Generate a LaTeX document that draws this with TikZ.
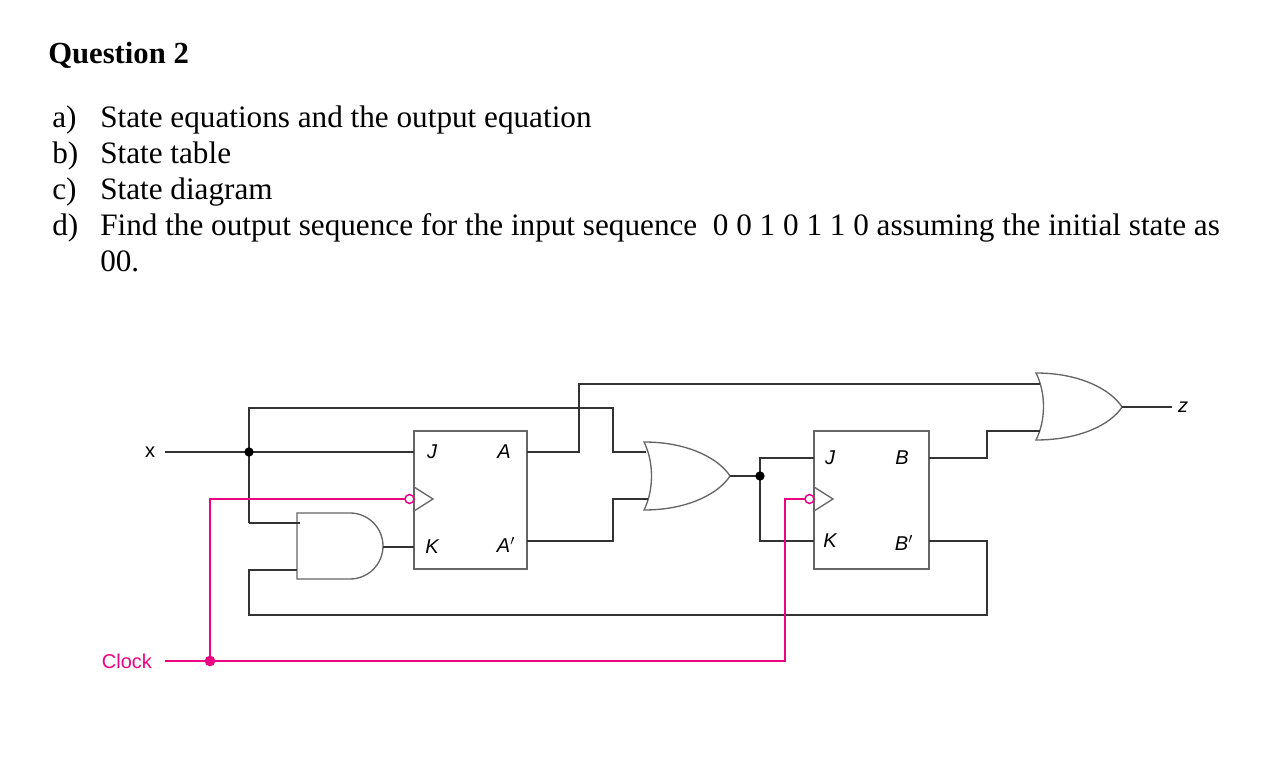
\documentclass[tikz,border=0pt]{standalone}
\usepackage{fontspec}
\setmainfont{Liberation Serif}
\newfontfamily\sfx{Liberation Sans}
\begin{document}
\begin{tikzpicture}[x=0.75pt,y=-0.75pt,
  wire/.style={draw=black!80,line width=1.1pt},
  clk/.style={draw=magenta!90!red,line width=1.1pt},
  gate/.style={draw=black!60,line width=1pt,fill=white},
  lbl/.style={font=\sfx\fontsize{15}{18}\selectfont\itshape,inner sep=0pt},
  txt/.style={font=\fontsize{23.4}{28}\selectfont,anchor=base west,inner sep=0pt},
  jdot/.style={circle,fill=black,inner sep=0pt,minimum size=7pt}]
\useasboundingbox (0,0) rectangle (1272,777);
\node[txt,font=\bfseries\fontsize{23}{28}\selectfont] (q) at (48,64) {Question 2};
\node[txt] (la) at (52,128) {a)}; \node[txt] (ta) at (100,128) {State equations and the output equation};
\node[txt] (lb) at (52,164) {b)}; \node[txt] (tb) at (100,164) {State table};
\node[txt] (lc) at (52,200) {c)}; \node[txt] (tc) at (100,200) {State diagram};
\node[txt] (ld) at (52,236) {d)}; \node[txt] (td) at (100,236) {Find the output sequence for the input sequence\ \ 0 0 1 0 1 1 0 assuming the initial state as};
\node[txt] (te) at (100,272) {00.};
% flip-flops
\draw[gate] (414,431) rectangle (527,569);
\draw[gate] (814,431) rectangle (929,569);
\draw[gate,fill=none] (414,487) -- (433,499) -- (414,511);
\draw[gate,fill=none] (814,487) -- (833,499) -- (814,511);
\node[lbl] (JA) at (432,452) {J}; \node[lbl] (KA) at (432,547) {K};
\node[lbl] (A) at (504,452) {A}; \node[lbl] (Ap) at (506,545) {A$'$};
\node[lbl] (JB) at (830,458) {J}; \node[lbl] (KB) at (830,541) {K};
\node[lbl] (B) at (902,458) {B}; \node[lbl] (Bp) at (904,543) {B$'$};
% gates
\draw[gate] (297,513) -- (350,513) arc (-90:90:33) -- (297,579) -- cycle;
\draw[gate] (644,442) .. controls (690,442) and (720,460) .. (730,476) .. controls (720,492) and (690,510) .. (644,510) .. controls (654,490) and (654,462) .. (644,442) -- cycle;
\draw[gate] (1036,373) .. controls (1082,373) and (1112,391) .. (1122,407) .. controls (1112,423) and (1082,440) .. (1036,440) .. controls (1046,420) and (1046,393) .. (1036,373) -- cycle;
% inputs
\node[lbl,font=\sfx\fontsize{15}{18}\selectfont] (x) at (150,452) {x};
\node[lbl,font=\sfx\fontsize{15}{18}\selectfont,text=magenta!90!red] (clock) at (127,661) {Clock};
\node[lbl] (z) at (1183,407) {z};
\coordinate (dx) at (249,452);
\coordinate (dc) at (210,661);
\coordinate (db) at (760,476);
\draw[wire] (165,452) -- (414,452);
\draw[wire] (249,523) -- (249,408) -- (613,408) -- (613,452) -- (646,452);
\draw[wire] (249,523) -- (300,523);
\draw[wire] (383,547) -- (414,547);
\draw[wire] (527,452) -- (579,452) -- (579,384) -- (1040,384);
\draw[wire] (527,541) -- (613,541) -- (613,499) -- (648,499);
\draw[wire] (730,476) -- (760,476);
\draw[wire] (814,458) -- (760,458) -- (760,541) -- (814,541);
\draw[wire] (929,458) -- (987,458) -- (987,431) -- (1040,431);
\draw[wire] (929,541) -- (987,541) -- (987,615) -- (249,615) -- (249,570) -- (297,570);
\draw[wire] (1122,407) -- (1172,407);
\node[jdot] at (dx) {}; \node[jdot] at (db) {};
% clock
\draw[clk] (165,661) -- (785,661) -- (785,499) -- (805,499);
\draw[clk] (210,661) -- (210,499) -- (405,499);
\node[circle,fill=magenta!90!red,inner sep=0pt,minimum size=8pt] at (dc) {};
\draw[clk,fill=white] (409.5,499) circle (4.5);
\draw[clk,fill=white] (809.5,499) circle (4.5);
\end{tikzpicture}
\end{document}
